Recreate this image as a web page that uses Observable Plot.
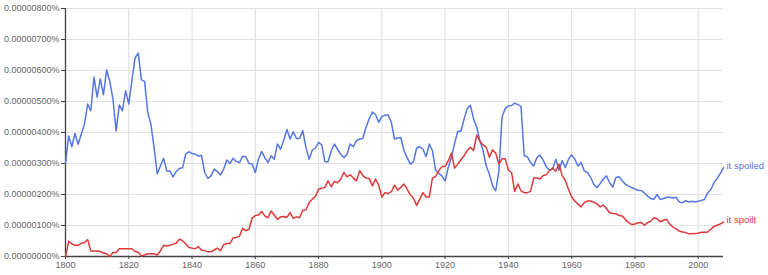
<!DOCTYPE html>
<html><head><meta charset="utf-8">
<script src="https://cdn.jsdelivr.net/npm/d3@7"></script>
<script src="https://cdn.jsdelivr.net/npm/@observablehq/plot@0.6"></script>
<style>body{margin:0;background:#fff;}</style>
</head><body><div id="chart"></div>
<script>
const firstYear = 1800;
const seriesNames = ["it spoiled", "it spoilt"];
const seriesColors = ["#5676e4", "#dc3a3a"];
// values in units of 0.000001 %
const spoiled = [
  3.00, 3.89, 3.54, 3.97, 3.62, 3.95, 4.27, 4.92, 4.70, 5.78,
  5.14, 5.73, 5.22, 6.02, 5.65, 5.08, 4.05, 4.89, 4.70, 5.35,
  4.92, 5.68, 6.41, 6.56, 5.70, 5.65, 4.65, 4.27, 3.51, 2.67,
  2.92, 3.17, 2.76, 2.76, 2.57, 2.74, 2.84, 2.86, 3.30, 3.38,
  3.32, 3.30, 3.24, 3.26, 2.71, 2.52, 2.60, 2.82, 2.74, 2.63,
  2.82, 3.11, 3.00, 3.17, 3.06, 3.03, 3.23, 3.22, 3.00, 2.98,
  2.71, 3.14, 3.39, 3.19, 3.03, 3.25, 3.14, 3.63, 3.46, 3.76,
  4.10, 3.79, 4.02, 3.81, 3.81, 4.06, 3.52, 3.14, 3.43, 3.50,
  3.68, 3.60, 3.06, 3.06, 3.41, 3.63, 3.46, 3.30, 3.19, 3.30,
  3.63, 3.54, 3.74, 3.79, 3.81, 4.17, 4.44, 4.66, 4.58, 4.33,
  4.51, 4.56, 4.57, 4.33, 3.79, 3.82, 3.84, 3.41, 3.19, 2.98,
  3.06, 3.50, 3.54, 3.46, 3.22, 3.63, 3.41, 2.78, 2.68, 2.60,
  2.44, 2.87, 3.20, 3.65, 4.04, 4.04, 4.44, 4.77, 4.88, 4.44,
  4.17, 3.74, 3.41, 2.92, 2.65, 2.28, 2.12, 2.76, 4.51, 4.77,
  4.86, 4.87, 4.95, 4.90, 4.84, 3.25, 3.22, 3.03, 2.92, 3.19,
  3.27, 3.11, 2.89, 2.78, 2.82, 3.14, 2.78, 3.09, 2.87, 3.14,
  3.28, 3.14, 2.92, 3.03, 2.76, 2.71, 2.55, 2.33, 2.22, 2.35,
  2.50, 2.60, 2.38, 2.24, 2.55, 2.57, 2.44, 2.33, 2.27, 2.22,
  2.18, 2.13, 2.13, 2.05, 1.95, 1.87, 1.84, 2.00, 1.84, 1.87,
  1.91, 1.91, 1.89, 1.91, 1.76, 1.73, 1.80, 1.76, 1.78, 1.76,
  1.78, 1.81, 1.84, 2.05, 2.16, 2.38, 2.52, 2.68, 2.87
];
const spoilt = [
  0.00, 0.49, 0.41, 0.36, 0.36, 0.43, 0.44, 0.55, 0.18, 0.18,
  0.18, 0.16, 0.11, 0.09, 0.00, 0.13, 0.13, 0.25, 0.25, 0.25,
  0.25, 0.25, 0.16, 0.14, 0.02, 0.05, 0.09, 0.09, 0.09, 0.05,
  0.18, 0.36, 0.34, 0.36, 0.40, 0.43, 0.56, 0.51, 0.40, 0.29,
  0.27, 0.25, 0.32, 0.20, 0.19, 0.15, 0.15, 0.21, 0.27, 0.19,
  0.38, 0.42, 0.42, 0.60, 0.62, 0.65, 0.91, 0.83, 0.88, 1.24,
  1.32, 1.34, 1.45, 1.31, 1.25, 1.47, 1.33, 1.20, 1.28, 1.29,
  1.26, 1.42, 1.23, 1.28, 1.25, 1.49, 1.50, 1.74, 1.85, 1.94,
  2.17, 2.20, 2.23, 2.44, 2.25, 2.42, 2.38, 2.50, 2.71, 2.57,
  2.64, 2.53, 2.44, 2.77, 2.61, 2.53, 2.52, 2.28, 2.50, 2.30,
  1.92, 2.06, 2.03, 2.09, 2.30, 2.14, 2.23, 2.34, 2.17, 1.99,
  1.88, 1.65, 1.85, 2.06, 1.92, 1.92, 2.53, 2.58, 2.77, 2.90,
  2.90, 3.09, 3.33, 2.85, 2.98, 3.12, 3.25, 3.42, 3.52, 3.42,
  3.92, 3.72, 3.60, 3.52, 3.20, 3.44, 3.33, 2.98, 3.15, 3.15,
  2.79, 2.71, 2.10, 2.34, 2.12, 2.06, 2.06, 2.10, 2.53, 2.53,
  2.50, 2.61, 2.64, 2.77, 2.85, 2.75, 2.98, 2.61, 2.46, 2.17,
  1.92, 1.79, 1.69, 1.60, 1.74, 1.79, 1.79, 1.75, 1.70, 1.60,
  1.66, 1.55, 1.41, 1.39, 1.38, 1.32, 1.31, 1.19, 1.09, 1.03,
  1.05, 1.09, 1.10, 1.01, 1.09, 1.14, 1.25, 1.22, 1.12, 1.17,
  1.20, 1.05, 0.95, 0.90, 0.82, 0.79, 0.78, 0.73, 0.73, 0.74,
  0.75, 0.78, 0.78, 0.79, 0.88, 0.97, 1.01, 1.05, 1.11
];
const xTicks = [1800, 1820, 1840, 1860, 1880, 1900, 1920, 1940, 1960, 1980, 2000];
const yTicks = [0, 1, 2, 3, 4, 5, 6, 7, 8];

const fmtY = v => "0.00000" + String(Math.round(v * 100)).padStart(3, "0") + "%";

const rows = [];
[spoiled, spoilt].forEach((arr, i) => {
  arr.forEach((v, j) => rows.push({series: seriesNames[i], year: firstYear + j, value: v}));
});
const ends = [spoiled, spoilt].map((arr, i) => ({
  series: seriesNames[i], year: firstYear + arr.length - 1, value: arr[arr.length - 1]
}));
const lastYear = firstYear + spoiled.length - 1;

const chart = Plot.plot({
  width: 768,
  height: 275,
  marginLeft: 65,
  marginRight: 45,
  marginTop: 8,
  marginBottom: 19,
  style: {fontFamily: "'Liberation Sans', Arial, sans-serif", fontSize: "9px", color: "#666", background: "#fff"},
  x: {domain: [firstYear, lastYear], label: null},
  y: {domain: [0, 8], label: null},
  color: {domain: seriesNames, range: seriesColors},
  marks: [
    Plot.gridX(xTicks, {stroke: "#e2e2e2", strokeOpacity: 1, strokeWidth: 1.2}),
    Plot.gridY(yTicks, {stroke: "#e2e2e2", strokeOpacity: 1, strokeWidth: 1.2}),
    Plot.axisX({ticks: xTicks, tickFormat: d => String(d), tickSize: 3, tickPadding: 2, stroke: "#444", label: null}),
    Plot.axisY({ticks: yTicks, tickFormat: fmtY, tickSize: 4, tickPadding: 2, stroke: "#444", label: null}),
    Plot.ruleX([firstYear], {stroke: "#444", strokeWidth: 1.3}),
    Plot.ruleY([0], {stroke: "#444", strokeWidth: 1.3}),
    Plot.line(rows, {x: "year", y: "value", z: "series", stroke: "series", strokeWidth: 1.5}),
    Plot.text(ends, {x: "year", y: "value", text: "series", fill: "series", textAnchor: "start", dx: 3, dy: -2, fontSize: 9.5})
  ]
});
document.getElementById("chart").appendChild(chart);
</script>
</body></html>
